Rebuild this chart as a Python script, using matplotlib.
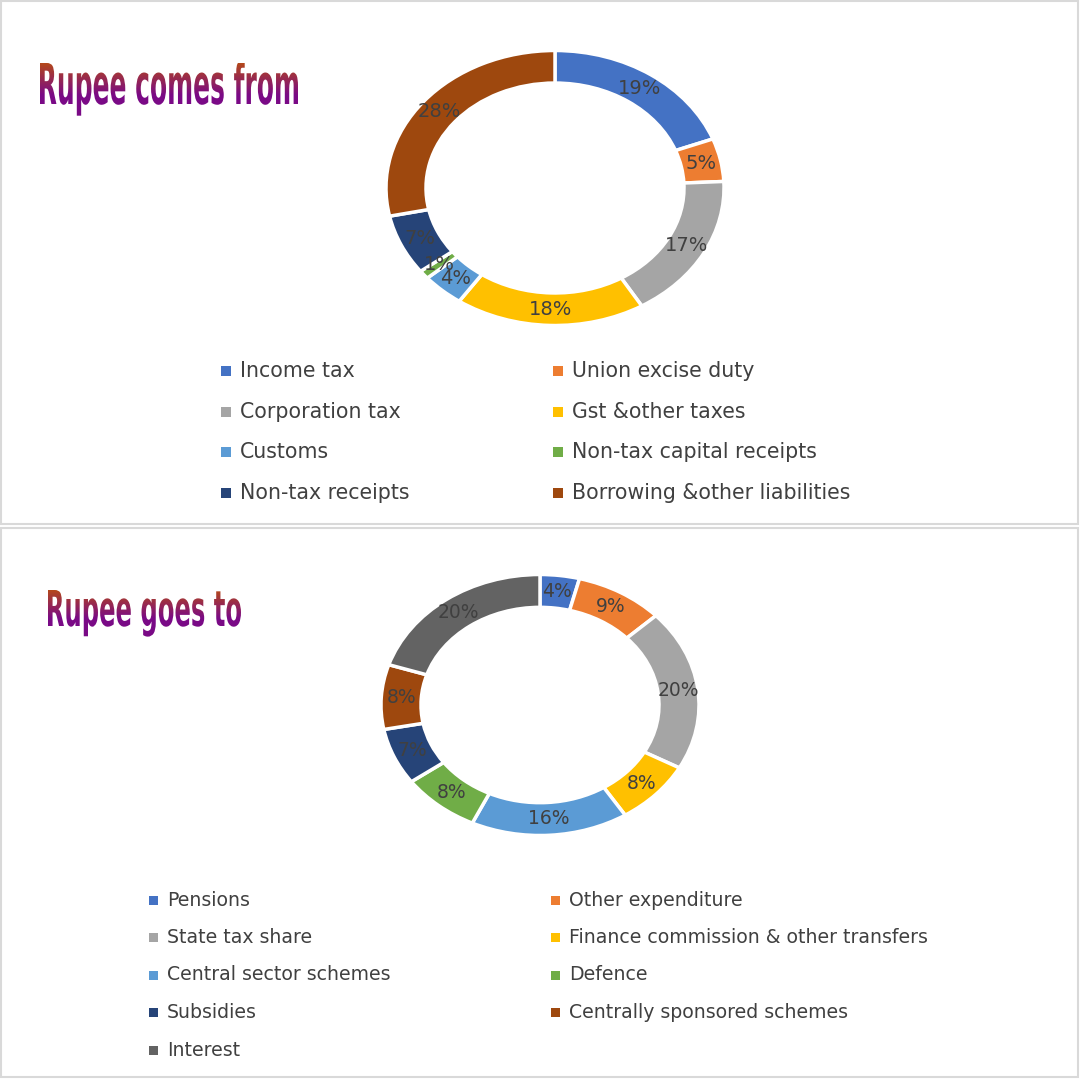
import numpy as np
import matplotlib.pyplot as plt
from matplotlib.patches import Rectangle, PathPatch
from matplotlib.textpath import TextPath
from matplotlib.font_manager import FontProperties
from matplotlib.transforms import Affine2D
from matplotlib.colors import to_rgb

####################################
### Data
####################################

in_labels = ["Income tax", "Union excise duty", "Corporation tax", "Gst &other taxes",
             "Customs", "Non-tax capital receipts", "Non-tax receipts",
             "Borrowing &other liabilities"]
in_values = [19, 5, 17, 18, 4, 1, 7, 28]

out_labels = ["Pensions", "Other expenditure", "State tax share",
              "Finance commission & other transfers", "Central sector schemes",
              "Defence", "Subsidies", "Centrally sponsored schemes", "Interest"]
out_values = [4, 9, 20, 8, 16, 8, 7, 8, 20]

colors = ["#4472C4", "#ED7D31", "#A5A5A5", "#FFC000", "#5B9BD5",
          "#70AD47", "#264478", "#9E480E", "#636363"]

txt_col = "#404040"
W = 1080.0

plt.rcParams['font.family'] = ['DejaVu Sans']

fig = plt.figure(figsize=(10.8, 10.8), dpi=100)

### background axes in pixel coordinates (y downwards)
bg = fig.add_axes([0, 0, 1, 1])

bg.add_patch(Rectangle((1, 1), 1077, 523, fill=False, ec="#d9d9d9", lw=1.5))
bg.add_patch(Rectangle((1, 528), 1077, 549, fill=False, ec="#d9d9d9", lw=1.5))


######################
### Condensed title with an orange -> purple gradient
######################

title_fp = FontProperties(family="DejaVu Sans", weight="bold")
cap_h = TextPath((0, 0), "R", size=1, prop=title_fp).get_extents().height

top_c = np.array(to_rgb("#B4481A"))
bot_c = np.array(to_rgb("#7A0A86"))
t = np.clip(np.linspace(0, 1, 200) / 0.6, 0, 1)[:, None]
grad = (top_c * (1 - t) + bot_c * t)[:, None, :]


def title(text, x0, width, top, baseline):
    tp = TextPath((0, 0), text, size=1, prop=title_fp)
    ext = tp.get_extents()
    sy = (baseline - top) / cap_h
    sx = width / ext.width
    tr = Affine2D().translate(-ext.x0, 0).scale(sx, -sy).translate(x0, baseline)
    path = tr.transform_path(tp)
    patch = PathPatch(path, fc="none", ec="none", transform=bg.transData)
    bg.add_patch(patch)
    desc = baseline - ext.y0 * sy
    im = bg.imshow(grad, extent=[x0, x0 + width, desc, top], aspect="auto",
                   interpolation="bilinear")
    im.set_clip_path(patch)


title("Rupee comes from", 40, 258, 63, 104)
title("Rupee goes to", 48, 193, 590, 626)

bg.set_xlim(0, W)
bg.set_ylim(W, 0)
bg.axis("off")


######################
### Donuts (the reference is stretched sideways, so the rings are ellipses)
######################

def donut(cx, cy, rx, ry, ring, values, fs):
    ax = fig.add_axes([(cx - rx) / W, (W - cy - ry) / W, 2 * rx / W, 2 * ry / W])
    w = ring / rx
    wedges, _, autotexts = ax.pie(values, colors=colors[:len(values)], startangle=90,
                                  counterclock=False, radius=1,
                                  wedgeprops=dict(width=w, edgecolor="white", linewidth=2.5),
                                  autopct=lambda p: f"{p:.0f}%",
                                  pctdistance=1 - w / 2)
    for a in autotexts:
        a.set_color(txt_col)
        a.set_fontsize(fs)
    ax.set_aspect("auto")
    ax.set_xlim(-1.0, 1.0)
    ax.set_ylim(-1.0, 1.0)
    return ax


donut(555, 188, 169, 137.5, 40, in_values, 14)
donut(540, 705, 159, 130.5, 40, out_values, 13.5)


######################
### Legends, two entries per row
######################

def legend(labels, x0, x1, y0, dy, fs, sq):
    for i, lab in enumerate(labels):
        x = x0 if i % 2 == 0 else x1
        y = y0 + (i // 2) * dy
        bg.add_patch(Rectangle((x - sq / 2, y - sq / 2), sq, sq, color=colors[i], lw=0))
        bg.text(x + 14, y, lab, fontsize=fs, color=txt_col, va="center", ha="left")


legend(in_labels, 226, 558, 371, 40.7, 14.8, 10)
legend(out_labels, 153, 555, 900, 37.5, 13.6, 9)

plt.savefig("out.png", dpi=100)
